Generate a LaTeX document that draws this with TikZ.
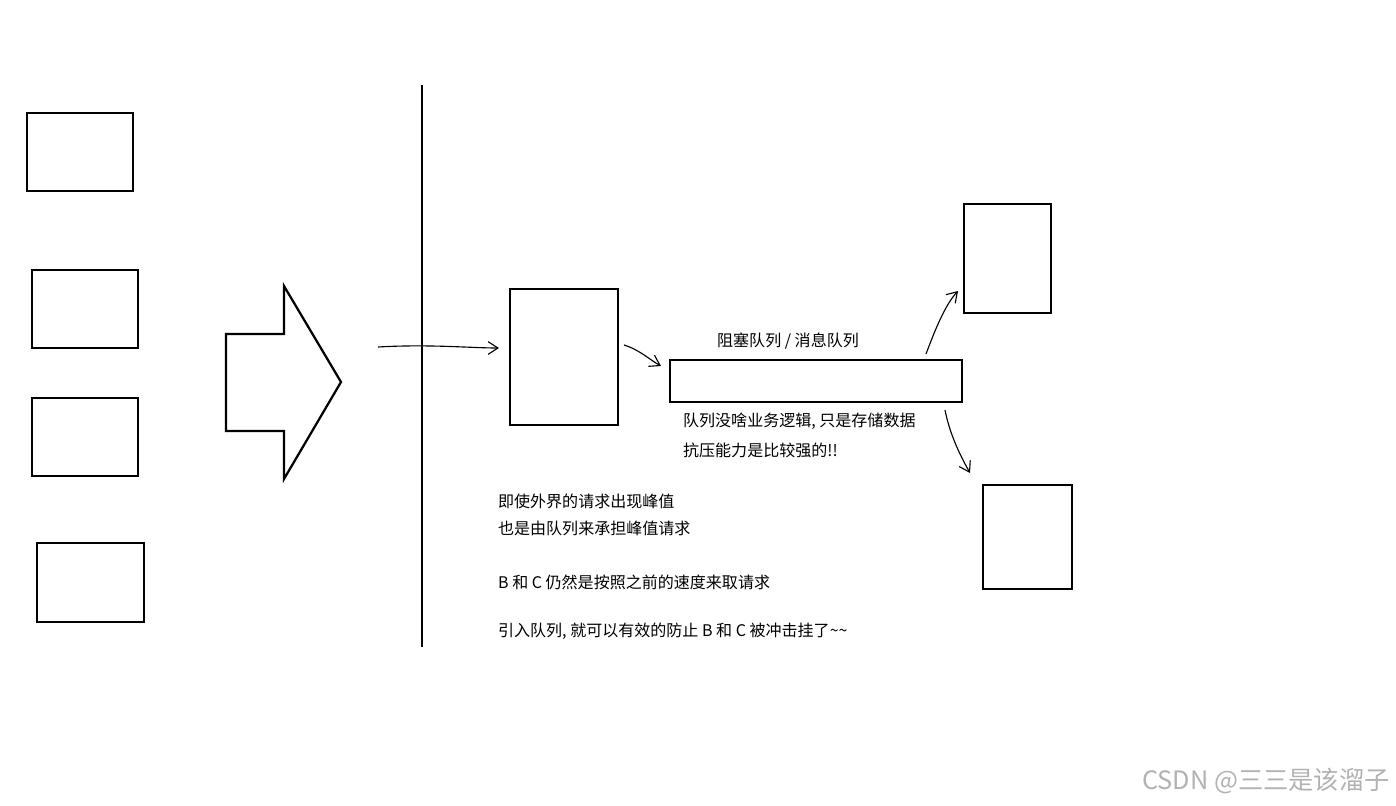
\documentclass[tikz,border=0pt]{standalone}
\usepackage{fontspec}
\setmainfont{Noto Sans CJK SC}
\usetikzlibrary{arrows.meta}
\begin{document}
\begin{tikzpicture}[x=0.05cm,y=-0.05cm,
  box/.style={draw,line width=3.2pt},
  hand/.style={line width=1.6pt,-{Straight Barb[length=14pt,width=18pt,line width=1.6pt]}},
  lbl/.style={font=\fontsize{22.8}{26}\selectfont,anchor=west,inner sep=0}]
\useasboundingbox (0,0) rectangle (1396,805);
\draw[box] (27,113) rectangle (133,191);
\draw[box] (32,270) rectangle (138,348);
\draw[box] (32,398) rectangle (138,476);
\draw[box] (37,543) rectangle (144,622);
\draw[box,line join=miter] (226,334)--(284,334)--(284,286)--(341,382)--(284,479)--(284,431)--(226,431)--cycle;
\draw[line width=3.2pt] (422,85)--(422,647);
\coordinate (s1) at (378,347);
\coordinate (bl) at (499,348);
\draw[box] (510,289) rectangle (618,425);
\draw[hand] (s1) .. controls (430,344) and (470,348) .. (bl);
\draw[hand] (624,345) .. controls (640,350) and (650,360) .. (661,366);
\draw[box] (670,360) rectangle (962,402);
\node[lbl,anchor=center] (t0) at (788,341) {阻塞队列 / 消息队列};
\draw[box] (964,204) rectangle (1051,313);
\draw[box] (983,485) rectangle (1072,589);
\draw[hand] (926,354) .. controls (935,330) and (945,305) .. (958,291);
\draw[hand] (945,410) .. controls (950,435) and (960,455) .. (970,473);
\node[lbl] (t1) at (683,421) {队列没啥业务逻辑, 只是存储数据};
\node[lbl] (t2) at (683,450) {抗压能力是比较强的!!};
\node[lbl] (t3) at (498,501) {即使外界的请求出现峰值};
\node[lbl] (t4) at (498,528) {也是由队列来承担峰值请求};
\node[lbl] (t5) at (498,582) {B 和 C 仍然是按照之前的速度来取请求};
\node[lbl] (t6) at (498,631) {引入队列, 就可以有效的防止 B 和 C 被冲击挂了\textasciitilde\textasciitilde};
\node[lbl,anchor=east,text=black!30,font=\fontsize{36}{40}\selectfont] (wm) at (1390,781) {CSDN @三三是该溜子};
\end{tikzpicture}
\end{document}
